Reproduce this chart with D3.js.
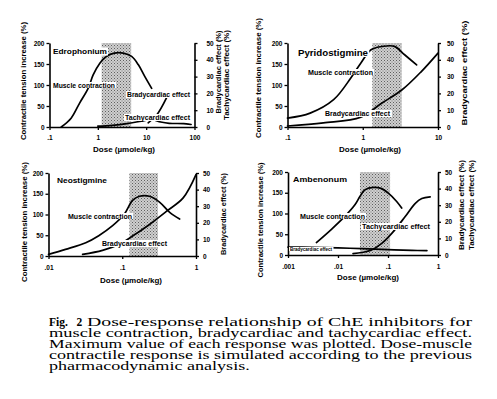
<!DOCTYPE html>
<html><head><meta charset="utf-8">
<script src="https://cdn.jsdelivr.net/npm/d3@7"></script>
<style>body{margin:0;background:#fff}svg{display:block}</style>
</head><body>
<svg id="c" width="497" height="399"></svg>
<script>
// ---- data ----
const drugNames = ["Edrophonium", "Pyridostigmine", "Neostigmine", "Ambenonum"];
const doseDomains = [[0.1, 100], [0.1, 10], [0.01, 1], [0.001, 1]];
const xTickValues = [[0.1, 1, 10, 100], [0.1, 1, 10], [0.01, 0.1, 1], [0.001, 0.01, 0.1, 1]];
const xTickLabels = [[".1", "1", "10", "100"], [".1", "1", "10"], [".01", ".1", "1"], [".001", ".01", ".1", "1"]];
const leftTicks = [0, 50, 100, 150, 200];
const rightTicks = [0, 10, 20, 30, 40, 50];
const shadeRanges = [[1.2, 4.9], [1.34, 3.3], [0.125, 0.305], [0.0275, 0.11]];

// muscle contraction (% , left axis)
const edroMuscle = [[0.175,0],[0.28,21],[0.42,57],[0.63,92],[0.8,124],[1.1,152],[1.5,168],[2.2,176],[3.35,176],[5,168],[6.9,148],[9.4,120],[13,92]];
const pyriMuscle = [[0.1,21],[0.2,33],[0.41,65],[0.69,116],[0.94,152],[1.29,184],[1.85,192],[2.64,192],[3.6,172],[5.2,148]];
const neoMuscle = [[0.01,4],[0.017,16],[0.032,32],[0.048,49],[0.074,73],[0.107,101],[0.138,134],[0.171,144],[0.234,144],[0.32,130],[0.44,105],[0.6,89]];
const ambeMuscle = [[0.0037,30],[0.0074,62],[0.0137,93],[0.0218,121],[0.0274,141],[0.0345,157],[0.0508,163],[0.0746,160],[0.1016,149],[0.149,129],[0.188,113]];
// bradycardiac effect (% , right axis)
const edroBrady = [[11,2.5],[16.5,7.2],[27,18]];
const pyriBrady = [[0.1,0.6],[0.3,2.5],[0.94,5.8],[1.76,14],[3.3,22],[6,33],[10,44]];
const neoBrady = [[0.029,1],[0.054,3.4],[0.09,7],[0.138,12],[0.234,19],[0.4,27],[0.67,35],[1,49]];
const ambeBrady = [[0.001,4.8],[0.003,4.6],[0.01,4.3],[0.03,3.8],[0.1,3.2],[0.3,2.8],[0.6,2.6]];
// tachycardiac effect (% , right axis)
const edroTachy = [[1,0.5],[2,1],[4,2],[8,3.5],[13,4.5],[20,3],[30,2.2],[60,2],[85,1.5]];
const ambeTachy = [[0.02,0.8],[0.03,1.5],[0.047,3],[0.075,7],[0.119,13],[0.219,23],[0.348,31],[0.474,34],[0.697,35]];

const muscleSeries = [edroMuscle, pyriMuscle, neoMuscle, ambeMuscle];
const bradySeries = [edroBrady, pyriBrady, neoBrady, ambeBrady];
const tachySeries = [edroTachy, null, null, ambeTachy];

const leftAxisTitle = "Contractile tension increase (%)";
const bradyAxisTitle = "Bradycardiac effect (%)";
const tachyAxisTitle = "Tachycardiac effect (%)";
const doseTitle = "Dose (\u00b5mole/kg)";
const captionLines = [
  "Dose-response relationship of ChE inhibitors for",
  "muscle contraction, bradycardiac and tachycardiac effect.",
  "Maximum value of each response was plotted.  Dose-muscle",
  "contractile response is simulated according to the previous",
  "pharmacodynamic analysis."
];

// ---- layout ----
const layouts = [
  {x0:49.5, x1:194.5, yT:43, yB:127, rOff:12, tickY:139.5, doseY:152, doseX:124,
   leftT:{x:23, cy:81, len:118}, rightT:[{x:218, cy:72, len:83, t:bradyAxisTitle},{x:226.5, cy:75, len:90, t:tachyAxisTitle}],
   labels:[{t:drugNames[0],x:53,y:54,w:54,s:8},{t:"Muscle contraction",x:53,y:87.5,w:62,s:6.5},
           {t:"Bradycardiac effect",x:127,y:96.5,w:63,s:6.5},{t:"Tachycardiac effect",x:125,y:119.5,w:65,s:6.5}]},
  {x0:287.5, x1:438, yT:43, yB:127, rOff:9, tickY:139.5, doseY:152, doseX:370,
   leftT:{x:258.5, cy:78, len:120}, rightT:[{x:464, cy:73, len:105, t:bradyAxisTitle}],
   labels:[{t:drugNames[1],x:298,y:55.5,w:70,s:8.5},{t:"Muscle contraction",x:308,y:74.5,w:65,s:6.5},
           {t:"Bradycardiac effect",x:325,y:115.5,w:65,s:6.5}]},
  {x0:48.5, x1:196, yT:173, yB:256, rOff:7, tickY:269.5, doseY:283, doseX:131,
   leftT:{x:24, cy:222, len:120}, rightT:[{x:223.5, cy:214, len:82, t:bradyAxisTitle}],
   labels:[{t:drugNames[2],x:57,y:183,w:50,s:8},{t:"Muscle contraction",x:68,y:218.5,w:64,s:6.5},
           {t:"Bradycardiac effect",x:102,y:245.5,w:65,s:6.5}]},
  {x0:288, x1:438, yT:172, yB:255, rOff:7, tickY:268.5, doseY:280, doseX:368,
   leftT:{x:260, cy:220, len:115}, rightT:[{x:461, cy:205, len:90, t:bradyAxisTitle},{x:471, cy:205, len:90, t:tachyAxisTitle}],
   labels:[{t:drugNames[3],x:293,y:182,w:54,s:8},{t:"Muscle contraction",x:300,y:218.5,w:65,s:6.5},
           {t:"Tachycardiac effect",x:362,y:228.5,w:68,s:6.5},{t:"Bradycardiac effect",x:290,y:250.5,w:42,s:4.5}]}
];

const svg = d3.select("#c");
const FONT = "'Liberation Sans', Arial, sans-serif";

const defs = svg.append("defs");
const pat = defs.append("pattern").attr("id","stip").attr("patternUnits","userSpaceOnUse")
  .attr("width",3).attr("height",3);
pat.append("rect").attr("width",3).attr("height",3).attr("fill","#cfcfcf");
pat.append("rect").attr("x",0).attr("y",0).attr("width",1).attr("height",1).attr("fill","#5e5e5e");
pat.append("rect").attr("x",1.5).attr("y",1.5).attr("width",1).attr("height",1).attr("fill","#7a7a7a");

layouts.forEach((L, i) => {
  const g = svg.append("g");
  const x = d3.scaleLog().domain(doseDomains[i]).range([L.x0, L.x1]);
  const yL = d3.scaleLinear().domain([0, 200]).range([L.yB, L.yT]);
  const yR = d3.scaleLinear().domain([0, 50]).range([L.yB, L.yT]);

  // shaded band
  g.append("rect").attr("x", x(shadeRanges[i][0])).attr("y", L.yT)
    .attr("width", x(shadeRanges[i][1]) - x(shadeRanges[i][0])).attr("height", L.yB - L.yT)
    .attr("fill", "url(#stip)");

  // curves
  const lineL = d3.line().x(d => x(d[0])).y(d => yL(d[1])).curve(d3.curveCatmullRom);
  const lineR = d3.line().x(d => x(d[0])).y(d => yR(d[1])).curve(d3.curveCatmullRom);
  const cg = g.append("g").attr("fill","none").attr("stroke","#000").attr("stroke-width",1.7)
    .attr("stroke-linecap","round");
  cg.append("path").attr("d", lineL(muscleSeries[i]));
  cg.append("path").attr("d", lineR(bradySeries[i]));
  if (tachySeries[i]) cg.append("path").attr("d", lineR(tachySeries[i]));

  // axes
  const axL = d3.axisLeft(yL).tickValues(leftTicks).tickSize(3).tickSizeOuter(0).tickFormat(d3.format("d"));
  const axR = d3.axisRight(yR).tickValues(rightTicks).tickSize(3).tickSizeOuter(0).tickFormat(d3.format("d"));
  const axB = d3.axisBottom(x).tickValues(xTickValues[i]).tickSize(3).tickSizeOuter(0)
    .tickFormat((d, k) => xTickLabels[i][k]);
  const gl = g.append("g").attr("transform", `translate(${L.x0},0)`).call(axL);
  const gr = g.append("g").attr("transform", `translate(${L.x1},0)`).call(axR);
  const gb = g.append("g").attr("transform", `translate(0,${L.yB})`).call(axB);
  [gl, gr, gb].forEach(a => {
    a.select(".domain").attr("stroke-width", 1.6);
    a.selectAll(".tick line").attr("stroke-width", 1.3);
    a.selectAll("text").attr("font-family", FONT).attr("font-weight", "bold").attr("font-size", 6.5).attr("fill","#000");
  });
  gl.selectAll("text").attr("x", -5);
  gr.selectAll("text").attr("x", L.rOff);
  gb.selectAll("text").attr("dy", null).attr("y", L.tickY - L.yB);

  // dose title
  g.append("text").attr("x", L.doseX).attr("y", L.doseY).attr("text-anchor","middle").attr("fill","#000")
    .attr("font-family", FONT).attr("font-weight","bold").attr("font-size", 8).text(doseTitle);

  // rotated axis titles
  const rot = (o, t) => g.append("text")
    .attr("transform", `translate(${o.x},${o.cy}) rotate(-90)`)
    .attr("text-anchor","middle").attr("dy","0.35em").attr("fill","#000")
    .attr("font-family", FONT).attr("font-weight","bold").attr("font-size", 7.5)
    .attr("textLength", o.len).attr("lengthAdjust","spacingAndGlyphs").text(t);
  rot(L.leftT, leftAxisTitle);
  L.rightT.forEach(o => rot(o, o.t));

  // in-plot labels with white backing
  L.labels.forEach(lb => {
    const bg = g.append("rect").attr("fill","#fff");
    const t = g.append("text").attr("x", lb.x).attr("y", lb.y).attr("fill","#000")
      .attr("font-family", FONT).attr("font-weight","bold").attr("font-size", lb.s)
      .attr("textLength", lb.w).attr("lengthAdjust","spacingAndGlyphs").text(lb.t);
    const b = t.node().getBBox();
    bg.attr("x", b.x - 1).attr("y", b.y + 0.5).attr("width", b.width + 2).attr("height", b.height - 1);
  });
});

// caption
const SERIF = "'Liberation Serif', 'Times New Roman', serif";
const cap = svg.append("g").attr("font-family", SERIF).attr("font-size", 11.5).attr("fill","#000");
const base0 = 325.5, lh = 11.2;
cap.append("text").attr("x", 49).attr("y", base0).attr("font-weight","bold").text("Fig.");
cap.append("text").attr("x", 76.5).attr("y", base0).attr("font-weight","bold").text("2");
const capX = [87, 49, 49, 49, 49];
const capW = [385, 423, 423, 423, null];
const capNodes = captionLines.map((ln, k) =>
  cap.append("text").attr("x", capX[k]).attr("y", base0 + k * lh).text(ln));
const stretch = 423 / capNodes[3].node().getComputedTextLength();
capNodes.forEach((t, k) => {
  const w = capW[k] != null ? capW[k] : t.node().getComputedTextLength() * stretch;
  t.attr("textLength", w).attr("lengthAdjust", "spacingAndGlyphs");
});
</script>
</body></html>
